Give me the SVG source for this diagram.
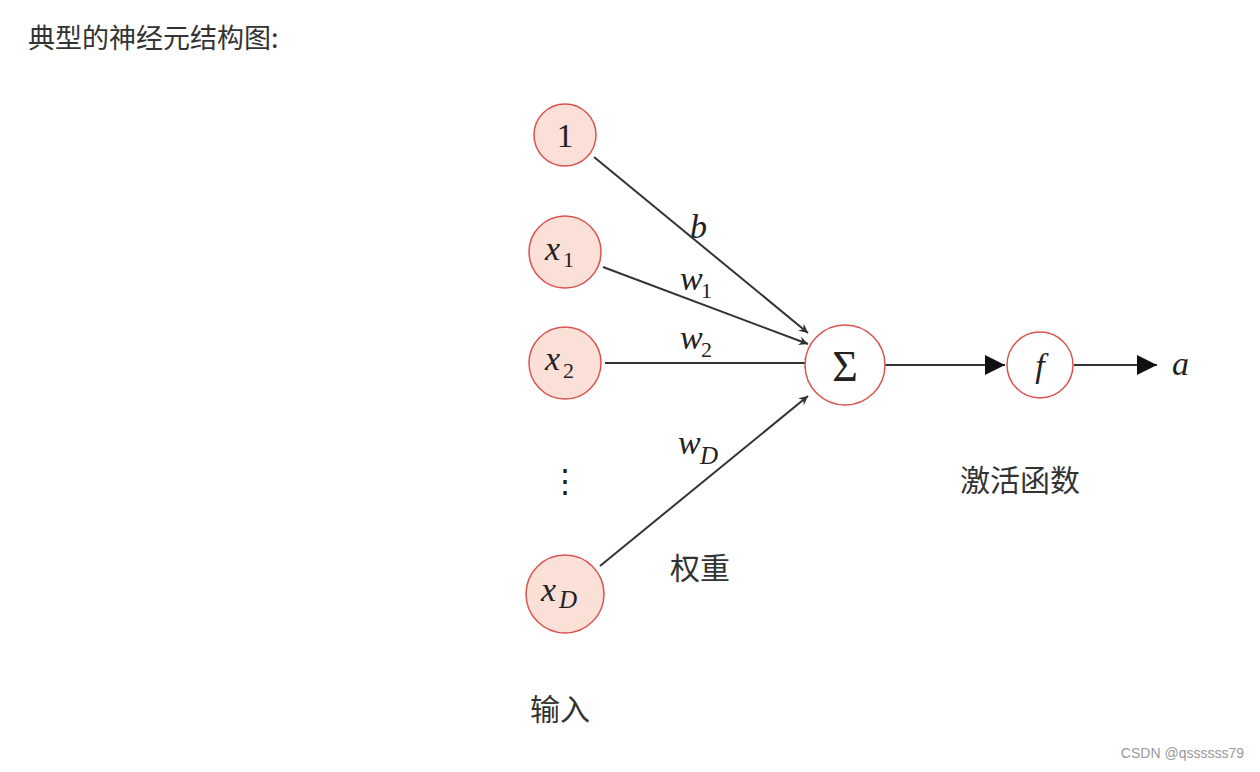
<svg xmlns="http://www.w3.org/2000/svg" width="1260" height="772" viewBox="0 0 1260 772">
<style>
.in{fill:#fbe0d8;stroke:#d9534f;stroke-width:1.5}
.op{fill:#fff;stroke:#d9534f;stroke-width:1.5}
.m{font-family:"Liberation Serif",serif;font-style:italic;fill:#222}
.r{font-family:"Liberation Serif",serif;fill:#222}
.cn{font-family:"Noto Sans CJK SC",sans-serif;fill:#333}
.ln{stroke:#333;stroke-width:2;fill:none}
</style>
<defs>
<marker id="a1" viewBox="0 0 10 10" refX="10" refY="5" markerWidth="10" markerHeight="9" markerUnits="userSpaceOnUse" orient="auto"><path d="M0,0 L10,5 L0,10 L3,5z" fill="#333"/></marker>
<marker id="a2" viewBox="0 0 10 10" refX="10" refY="5" markerWidth="24" markerHeight="20" markerUnits="userSpaceOnUse" orient="auto"><path d="M0,0 L10,5 L0,10z" fill="#111"/></marker>
</defs>
<text x="28" y="48" font-family="'Noto Sans CJK SC',sans-serif" font-size="27" fill="#333">典型的神经元结构图:</text>
<g id="connectors">
<line class="ln" x1="594" y1="157" x2="808" y2="333" marker-end="url(#a1)"/>
<line class="ln" x1="603" y1="267" x2="808" y2="344" marker-end="url(#a1)"/>
<line class="ln" x1="605" y1="363" x2="813" y2="363" marker-end="url(#a1)"/>
<line class="ln" x1="600" y1="566" x2="808" y2="396" marker-end="url(#a1)"/>
<line class="ln" x1="885" y1="365" x2="1005" y2="365" marker-end="url(#a2)"/>
<line class="ln" x1="1074" y1="365" x2="1157" y2="365" marker-end="url(#a2)"/>
</g>
<g id="n1"><circle class="in" cx="565" cy="135" r="31"/><text class="r" x="565" y="147" font-size="33" text-anchor="middle">1</text></g>
<g id="x1"><circle class="in" cx="565" cy="252" r="36"/><text class="m" x="545" y="260" font-size="34">x</text><text class="r" x="563" y="267" font-size="22">1</text></g>
<g id="x2"><circle class="in" cx="565" cy="363" r="36"/><text class="m" x="545" y="370" font-size="34">x</text><text class="r" x="563" y="378" font-size="22">2</text></g>
<g id="dots"><text class="r" x="565" y="492" font-size="32" text-anchor="middle">⋮</text></g>
<g id="xD"><circle class="in" cx="565" cy="594" r="39"/><text class="m" x="541" y="601" font-size="34">x</text><text class="m" x="559" y="608" font-size="25">D</text></g>
<g id="sum"><circle class="op" cx="845" cy="365" r="40"/><text class="r" x="845" y="381" font-size="44" text-anchor="middle">Σ</text></g>
<g id="f"><circle class="op" cx="1040" cy="365" r="33"/><text class="m" x="1040" y="377" font-size="34" text-anchor="middle">f</text></g>
<g id="out"><text class="m" x="1172" y="375" font-size="34">a</text></g>
<g id="labels">
<text class="m" x="690" y="238" font-size="34">b</text>
<text class="m" x="680" y="290" font-size="34">w</text><text class="r" x="701" y="298" font-size="22">1</text>
<text class="m" x="680" y="349" font-size="34">w</text><text class="r" x="701" y="357" font-size="22">2</text>
<text class="m" x="678" y="454" font-size="34">w</text><text class="m" x="700" y="464" font-size="25">D</text>
<text class="cn" x="670" y="579" font-size="30">权重</text>
<text class="cn" x="960" y="491" font-size="30">激活函数</text>
<text class="cn" x="530" y="720" font-size="30">输入</text>
<text x="1244" y="758" font-family="'Liberation Sans',sans-serif" font-size="14" fill="#999" text-anchor="end">CSDN @qssssss79</text>
</g>
</svg>
